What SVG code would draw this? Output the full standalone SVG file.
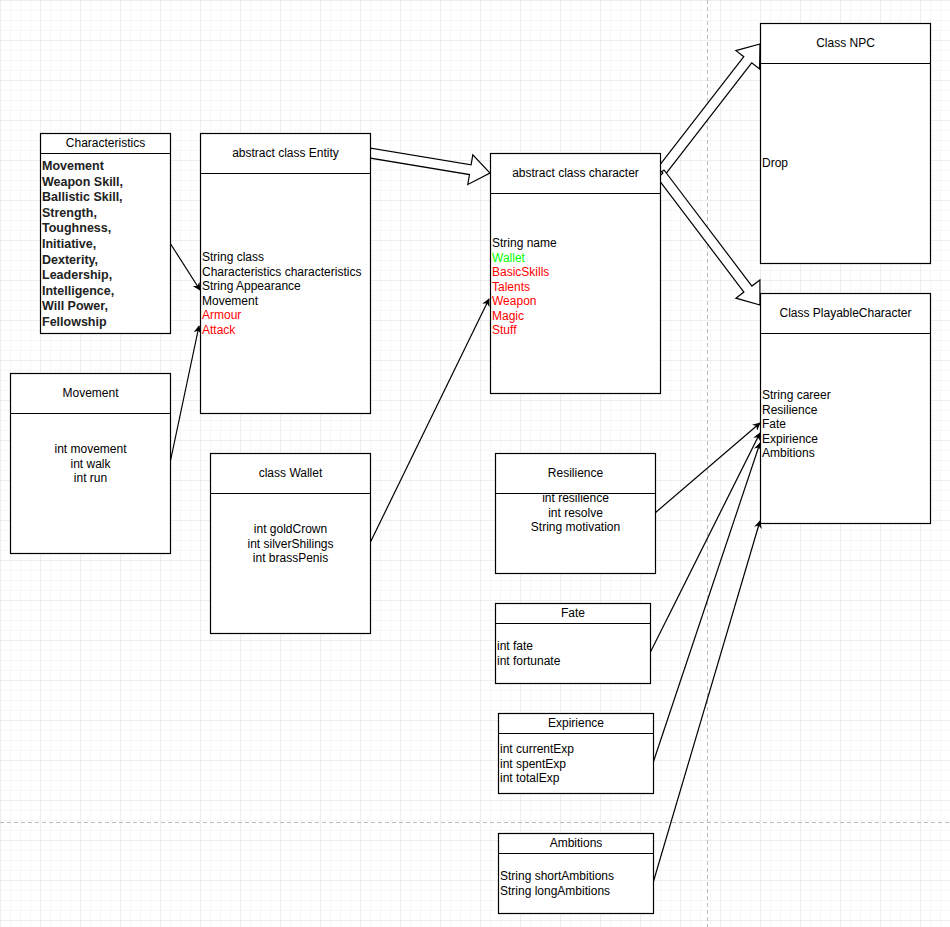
<svg xmlns="http://www.w3.org/2000/svg" width="950" height="927" viewBox="0 0 950 927">
<defs>
<pattern id="g" width="10" height="10" patternUnits="userSpaceOnUse"><path d="M10 0H0V10" fill="none" stroke="#f0f0f0" stroke-width="1"/></pattern>
<pattern id="g4" width="40" height="40" patternUnits="userSpaceOnUse"><rect width="40" height="40" fill="url(#g)"/><path d="M40 0H0V40" fill="none" stroke="#e4e4e4" stroke-width="1"/></pattern>
<marker id="a" viewBox="0 0 10 10" refX="9" refY="5" markerWidth="8" markerHeight="8" orient="auto" markerUnits="userSpaceOnUse"><path d="M0 0L10 5L0 10L3 5Z" fill="#000"/></marker>
</defs>
<style>
.b{fill:#fff;stroke:#000;stroke-width:1.2}
.l{stroke:#000;stroke-width:1.2}
text{font-family:"Liberation Sans",Arial,sans-serif;font-size:12px;fill:#000}
.c{text-anchor:middle}
.bd{font-weight:bold;font-size:12.5px;fill:#222}
.r{fill:#ff0000}
.gr{fill:#00ff00}
.e{fill:none;stroke:#000;stroke-width:1.2}
.hb{fill:#fff;stroke:#000;stroke-width:1.2}
</style>
<rect width="950" height="927" fill="#fff"/>
<rect width="950" height="927" fill="url(#g4)"/>
<line x1="707.5" y1="0" x2="707.5" y2="927" stroke="#bbb" stroke-dasharray="4 3"/>
<line x1="0" y1="822.5" x2="950" y2="822.5" stroke="#bbb" stroke-dasharray="4 3"/>

<g id="connectors">
<polygon class="hb" points="369.2,157.9 370.8,148.1 471.1,164.8 472.8,154.9 490,173 467.8,184.5 469.5,174.6"/>
<polygon class="hb" points="664,176.1 656,169.9 743.8,56.7 735.9,50.6 760,44 759.6,69 751.7,62.9"/>
<polygon class="hb" points="656,176 664,170 751.9,286.1 759.9,280 760,305 735.9,298.2 743.9,292.1"/>
<rect x="658" y="171" width="4" height="4" class="hb" transform="rotate(45 660 173)"/>
<line class="l" x1="170" y1="243" x2="200" y2="290" marker-end="url(#a)"/>
<line class="l" x1="170" y1="463" x2="199" y2="326" marker-end="url(#a)"/>
<line class="l" x1="370" y1="543" x2="489" y2="299" marker-end="url(#a)"/>
<line class="l" x1="655" y1="513" x2="760" y2="423" marker-end="url(#a)"/>
<line class="l" x1="650" y1="653" x2="760" y2="433" marker-end="url(#a)"/>
<line class="l" x1="653" y1="763" x2="760" y2="443" marker-end="url(#a)"/>
<line class="l" x1="653" y1="883" x2="760" y2="521" marker-end="url(#a)"/>
</g>

<g id="characteristics">
<rect class="b" x="40.5" y="133.5" width="130" height="200"/><line class="l" x1="40.5" y1="153.5" x2="170.5" y2="153.5"/>
<text class="c" x="105.5" y="147">Characteristics</text>
<text class="bd" x="42" y="170">Movement</text>
<text class="bd" x="42" y="185.6">Weapon Skill,</text>
<text class="bd" x="42" y="201.2">Ballistic Skill,</text>
<text class="bd" x="42" y="216.8">Strength,</text>
<text class="bd" x="42" y="232.4">Toughness,</text>
<text class="bd" x="42" y="248">Initiative,</text>
<text class="bd" x="42" y="263.6">Dexterity,</text>
<text class="bd" x="42" y="279.2">Leadership,</text>
<text class="bd" x="42" y="294.8">Intelligence,</text>
<text class="bd" x="42" y="310.4">Will Power,</text>
<text class="bd" x="42" y="326">Fellowship</text>
</g>

<g id="entity">
<rect class="b" x="200.5" y="133.5" width="170" height="280"/><line class="l" x1="200.5" y1="173.5" x2="370.5" y2="173.5"/>
<text class="c" x="285.5" y="157">abstract class Entity</text>
<text x="202" y="261">String class</text>
<text x="202" y="275.5">Characteristics characteristics</text>
<text x="202" y="290">String Appearance</text>
<text x="202" y="304.5">Movement</text>
<text class="r" x="202" y="319">Armour</text>
<text class="r" x="202" y="333.5">Attack</text>
</g>

<g id="movement">
<rect class="b" x="10.5" y="373.5" width="160" height="180"/><line class="l" x1="10.5" y1="413.5" x2="170.5" y2="413.5"/>
<text class="c" x="90.5" y="397">Movement</text>
<text class="c" x="90.5" y="453">int movement</text>
<text class="c" x="90.5" y="467.5">int walk</text>
<text class="c" x="90.5" y="482">int run</text>
</g>

<g id="wallet">
<rect class="b" x="210.5" y="453.5" width="160" height="180"/><line class="l" x1="210.5" y1="493.5" x2="370.5" y2="493.5"/>
<text class="c" x="290.5" y="477">class Wallet</text>
<text class="c" x="290.5" y="533">int goldCrown</text>
<text class="c" x="290.5" y="547.5">int silverShilings</text>
<text class="c" x="290.5" y="562">int brassPenis</text>
</g>

<g id="character">
<rect class="b" x="490.5" y="153.5" width="170" height="240"/><line class="l" x1="490.5" y1="193.5" x2="660.5" y2="193.5"/>
<text class="c" x="575.5" y="177">abstract class character</text>
<text x="492" y="247">String name</text>
<text class="gr" x="492" y="261.5">Wallet</text>
<text class="r" x="492" y="276">BasicSkills</text>
<text class="r" x="492" y="290.5">Talents</text>
<text class="r" x="492" y="305">Weapon</text>
<text class="r" x="492" y="319.5">Magic</text>
<text class="r" x="492" y="334">Stuff</text>
</g>

<g id="npc">
<rect class="b" x="760.5" y="23.5" width="170" height="240"/><line class="l" x1="760.5" y1="63.5" x2="930.5" y2="63.5"/>
<text class="c" x="845.5" y="47">Class NPC</text>
<text x="762" y="167">Drop</text>
</g>

<g id="playable">
<rect class="b" x="760.5" y="293.5" width="170" height="230"/><line class="l" x1="760.5" y1="333.5" x2="930.5" y2="333.5"/>
<text class="c" x="845.5" y="317">Class PlayableCharacter</text>
<text x="762" y="399">String career</text>
<text x="762" y="413.5">Resilience</text>
<text x="762" y="428">Fate</text>
<text x="762" y="442.5">Expirience</text>
<text x="762" y="457">Ambitions</text>
</g>

<g id="resilience">
<rect class="b" x="495.5" y="453.5" width="160" height="120"/><line class="l" x1="495.5" y1="493.5" x2="655.5" y2="493.5"/>
<text class="c" x="575.5" y="477">Resilience</text>
<text class="c" x="575.5" y="502">int resilience</text>
<text class="c" x="575.5" y="516.5">int resolve</text>
<text class="c" x="575.5" y="531">String motivation</text>
</g>

<g id="fate">
<rect class="b" x="495.5" y="603.5" width="155" height="80"/><line class="l" x1="495.5" y1="623.5" x2="650.5" y2="623.5"/>
<text class="c" x="573" y="617">Fate</text>
<text x="497" y="650">int fate</text>
<text x="497" y="664.5">int fortunate</text>
</g>

<g id="expirience">
<rect class="b" x="498.5" y="713.5" width="155" height="80"/><line class="l" x1="498.5" y1="733.5" x2="653.5" y2="733.5"/>
<text class="c" x="576" y="727">Expirience</text>
<text x="500" y="753">int currentExp</text>
<text x="500" y="767.5">int spentExp</text>
<text x="500" y="782">int totalExp</text>
</g>

<g id="ambitions">
<rect class="b" x="498.5" y="833.5" width="155" height="80"/><line class="l" x1="498.5" y1="853.5" x2="653.5" y2="853.5"/>
<text class="c" x="576" y="847">Ambitions</text>
<text x="500" y="880">String shortAmbitions</text>
<text x="500" y="894.5">String longAmbitions</text>
</g>
</svg>
